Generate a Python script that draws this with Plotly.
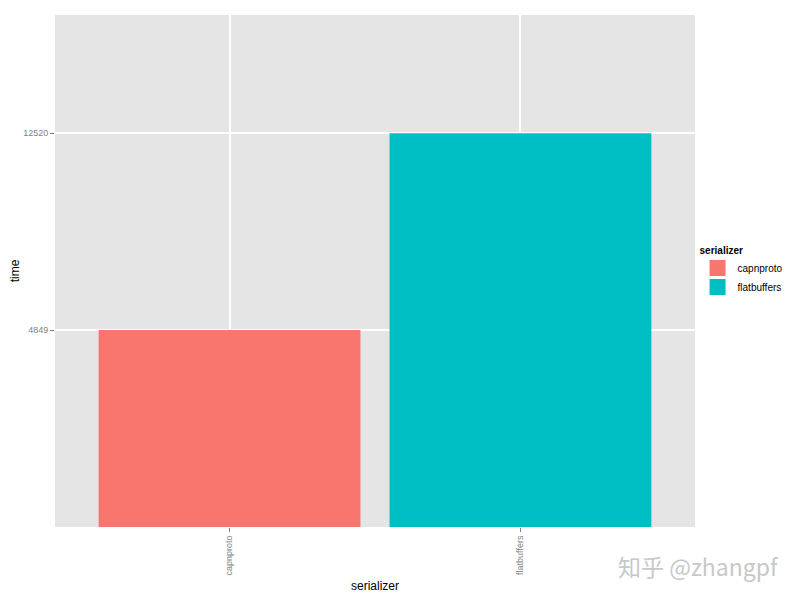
import plotly.graph_objects as go

# data
serializers = ["capnproto", "flatbuffers"]
times = [4849, 12520]
colors = ["#F8766D", "#00BFC4"]

# ggplot treated time as a discrete scale: each distinct value gets a rank position
levels = sorted(set(times))
pos = [levels.index(t) + 1 for t in times]

fig = go.Figure()
for s, p, c in zip(serializers, pos, colors):
    fig.add_trace(go.Bar(
        x=[s], y=[p], name=s,
        marker=dict(color=c, line=dict(width=0)),
        width=0.9, showlegend=False,
    ))
    # legend-only entry with a bigger square key, like ggplot's
    fig.add_trace(go.Scatter(
        x=[None], y=[None], name=s, mode="markers",
        marker=dict(color=c, symbol="square", size=16, line=dict(width=0)),
    ))

tick_font = dict(family="Liberation Sans, Arial, sans-serif", size=9, color="#7F7F7F")
title_font = dict(family="Liberation Sans, Arial, sans-serif", size=12, color="black")

# page body has an 8px margin, so the margins below are shifted to compensate
fig.update_layout(
    width=800, height=600,
    margin=dict(l=47, r=113, t=7, b=81, autoexpand=False),
    paper_bgcolor="white",
    plot_bgcolor="#E5E5E5",
    barmode="overlay",
    showlegend=True,
    legend=dict(
        title=dict(text="<b>serializer</b>",
                   font=dict(family="Liberation Sans, Arial, sans-serif", size=10, color="black")),
        font=dict(family="Liberation Sans, Arial, sans-serif", size=10, color="black"),
        x=1.004, xanchor="left", y=0.5, yanchor="middle",
        bgcolor="white", tracegroupgap=0, itemwidth=30, itemsizing="trace",
    ),
    xaxis=dict(
        type="category", categoryorder="array", categoryarray=serializers,
        range=[-0.6, 1.6], automargin=False,
        tickangle=-90, tickfont=tick_font,
        ticks="outside", ticklen=4, tickcolor="#7F7F7F",
        showgrid=True, gridcolor="white", gridwidth=2,
        zeroline=False, showline=False,
        title=dict(text="serializer", font=title_font, standoff=6),
    ),
    yaxis=dict(
        range=[0, 2.6], automargin=False,
        tickvals=list(range(1, len(levels) + 1)),
        ticktext=[str(v) for v in levels],
        tickfont=tick_font,
        ticks="outside", ticklen=4, tickcolor="#7F7F7F",
        showgrid=True, gridcolor="white", gridwidth=2,
        zeroline=False, showline=False,
        title=dict(text="time", font=title_font, standoff=8),
    ),
)

# watermark from the source image
fig.add_annotation(
    text="知乎 @zhangpf", xref="paper", yref="paper",
    x=1.134, y=-0.076, xanchor="right", yanchor="middle",
    showarrow=False,
    font=dict(family="Noto Sans CJK SC, sans-serif", size=23, color="#C8C8C8"),
)

fig.write_html("out.html")
